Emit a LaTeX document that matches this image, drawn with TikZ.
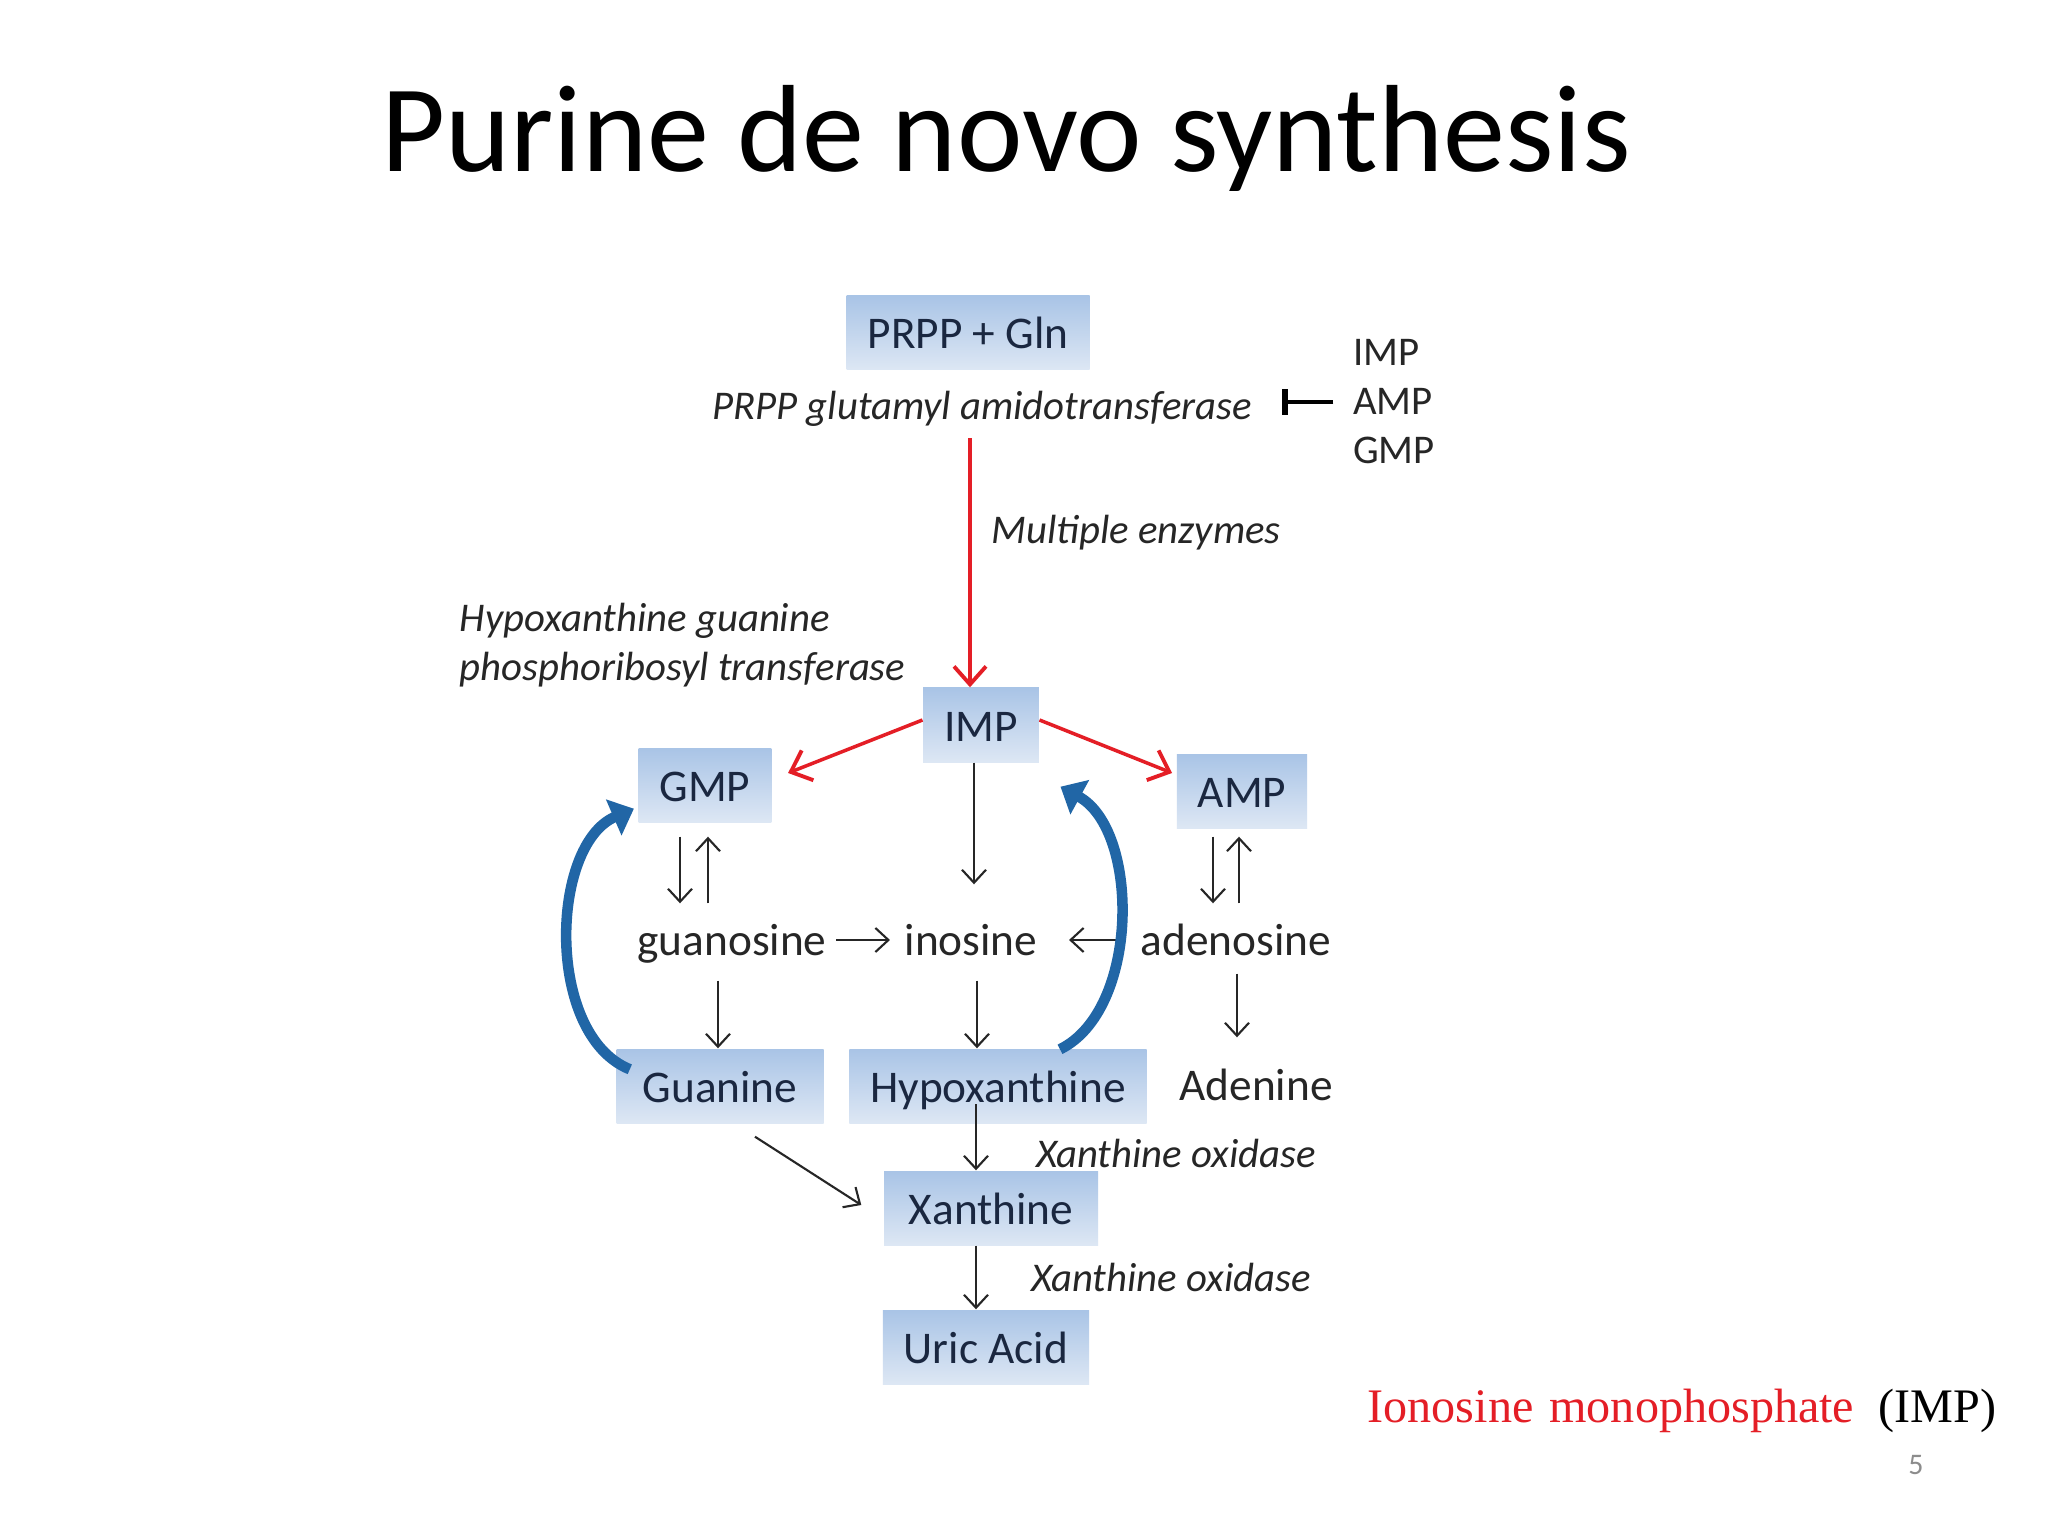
\documentclass[tikz,border=0pt]{standalone}
\usepackage{fontspec}
\setmainfont{Carlito}
\newfontfamily\purSerif{Liberation Serif}
\usetikzlibrary{arrows.meta}
\definecolor{purInk}{HTML}{1A2740}
\definecolor{purGray}{HTML}{262626}
\definecolor{purRed}{HTML}{E41E26}
\definecolor{purBlue}{HTML}{2166A6}
\definecolor{purBoxTop}{HTML}{A9C4E6}
\definecolor{purBoxBot}{HTML}{DDE7F4}
\definecolor{purPage}{HTML}{8C8C8C}
\newcommand{\purLabelFont}{\fontsize{12.9}{15.5}\selectfont}
\newcommand{\purSmallFont}{\fontsize{11.6}{13.95}\selectfont}
\tikzset{
  pur box/.style={top color=purBoxTop, bottom color=purBoxBot, draw=none, minimum height=0.74cm,
    inner xsep=0.21cm, inner ysep=0.1cm, text height=0.40cm, text depth=0.08cm, font=\purLabelFont, text=purInk},
  pur text/.style={font=\purLabelFont, text=purGray, inner sep=0.03cm, text height=0.32cm, text depth=0.09cm},
  pur enzyme/.style={font=\purSmallFont\itshape, text=purGray, inner sep=0.03cm},
  pur small/.style={font=\purSmallFont, text=purGray, inner sep=0.03cm},
  pur arrow/.style={draw=purGray, line width=0.6pt, -{Straight Barb[length=1.3mm,width=2.4mm]}},
  pur red/.style={draw=purRed, line width=1pt, -{Straight Barb[length=1.8mm,width=3.2mm,line width=1.1pt]}},
  pur recycle/.style={draw=purBlue, line width=3pt, -{Triangle[length=2.2mm,width=3.8mm]}},
  pur inhibit/.style={draw=black, line width=1.2pt, -{Bar[width=2.6mm,line width=1.8pt]}},
}

\begin{document}
\begin{tikzpicture}
  % Slide frame
  \fill[white] (0,0) rectangle (20.48,-15.36);
  \useasboundingbox (0,0) rectangle (20.48,-15.36);

  % Title
  \node[font=\fontsize{35.3}{42}\selectfont, anchor=base] (title) at (10.06,-1.72) {Purine de novo synthesis};

  % Start of the pathway and its feedback
  \node[pur box, minimum width=2.43cm] (prpp) at (9.68,-3.33) {PRPP + Gln};
  \node[pur enzyme] (enz) at (9.82,-4.09) {PRPP glutamyl amidotransferase};
  \node[pur small, align=left] (inhib) at (13.94,-4.02) {IMP\\AMP\\GMP};
  \draw[pur inhibit, shorten <=0.16cm, shorten >=0.26cm] (inhib.west) -- (inhib.west -| enz.east);
  \node[pur enzyme] (multi) at (11.36,-5.33) {Multiple enzymes};
  \node[pur enzyme, align=left, anchor=west] (hgprt) at (4.56,-6.45) {Hypoxanthine guanine\\phosphoribosyl transferase};

  % Nucleotides
  \node[pur box, minimum width=1.11cm] (imp) at (9.81,-7.25) {IMP};
  \node[pur box, minimum width=1.29cm] (gmp) at (7.05,-7.85) {GMP};
  \node[pur box, minimum width=1.26cm] (amp) at (12.42,-7.91) {AMP};
  \draw[pur red, shorten <=0.08cm] ([xshift=-0.11cm]imp.north |- enz.south) -- ([xshift=-0.11cm]imp.north);
  \draw[pur red] ([yshift=0.05cm]imp.west) -- ([shift={(0.16,0.12)}]gmp.east);
  \draw[pur red] ([yshift=0.05cm]imp.east) -- ([shift={(-0.04,0.18)}]amp.west);

  % Nucleosides
  \node[pur text, anchor=base] (guanosine) at (7.32,-9.55) {guanosine};
  \node[pur text, anchor=base] (inosine) at (9.71,-9.55) {inosine};
  \node[pur text, anchor=base] (adenosine) at (12.36,-9.55) {adenosine};
  \draw[pur arrow, shorten <=0.14cm, shorten >=0.16cm] ([xshift=-0.25cm]gmp.south) -- ([xshift=-0.25cm]gmp.south |- guanosine.north);
  \draw[pur arrow, shorten <=0.16cm, shorten >=0.14cm] ([xshift=0.03cm]gmp.south |- guanosine.north) -- ([xshift=0.03cm]gmp.south);
  \draw[pur arrow, shorten <=0.08cm, shorten >=0.16cm] ([xshift=-0.29cm]amp.south) -- ([xshift=-0.29cm]amp.south |- adenosine.north);
  \draw[pur arrow, shorten <=0.16cm, shorten >=0.08cm] ([xshift=-0.03cm]amp.south |- adenosine.north) -- ([xshift=-0.03cm]amp.south);
  \draw[pur arrow, shorten >=0.35cm] ([xshift=-0.07cm]imp.south) -- ([xshift=-0.07cm]imp.south |- inosine.north);
  \draw[pur arrow, shorten <=0.06cm, shorten >=0.11cm] ([yshift=0.15cm]guanosine.base east) -- ([yshift=0.15cm]inosine.base west);
  \draw[pur arrow, shorten <=0.16cm, shorten >=0.28cm] ([yshift=0.15cm]adenosine.base west) -- ([yshift=0.15cm]inosine.base east);

  % Bases
  \node[pur box, minimum width=2.07cm] (guanine) at (7.20,-10.86) {Guanine};
  \node[pur box, minimum width=2.97cm] (hypox) at (9.98,-10.86) {Hypoxanthine};
  \node[pur text, anchor=base] (adenine) at (12.56,-11.00) {Adenine};
  \draw[pur arrow, shorten <=0.13cm] ([xshift=-0.02cm]guanine.north |- guanosine.south) -- ([xshift=-0.02cm]guanine.north);
  \draw[pur arrow, shorten <=0.13cm] ([xshift=0.06cm]inosine.south) -- ([xshift=0.06cm]inosine.south |- hypox.north);
  \draw[pur arrow, shorten <=0.06cm, shorten >=0.27cm] ([xshift=0.01cm]adenosine.south) -- ([xshift=0.01cm]adenosine.south |- adenine.north);

  % Salvage loops
  \draw[pur recycle] ([shift={(0.14,-0.21)}]guanine.north west) .. controls (5.45,-10.35) and (5.50,-8.45) .. ([shift={(-0.04,0.14)}]gmp.south west);
  \draw[pur recycle] ([shift={(0.62,-0.01)}]hypox.north) .. controls (11.40,-10.10) and (11.40,-8.30) .. ([shift={(0.21,-0.24)}]imp.south east);

  % Degradation to uric acid
  \node[pur box, minimum width=2.14cm] (xanthine) at (9.91,-12.08) {Xanthine};
  \node[pur box, minimum width=2.04cm] (uric) at (9.86,-13.47) {Uric Acid};
  \node[pur enzyme] (xo1) at (11.76,-11.53) {Xanthine oxidase};
  \node[pur enzyme] (xo2) at (11.71,-12.77) {Xanthine oxidase};
  \draw[pur arrow, shorten <=0.18cm] ([xshift=-0.15cm]xanthine.north |- hypox.center) -- ([xshift=-0.15cm]xanthine.north);
  \draw[pur arrow] ([xshift=-0.15cm]xanthine.south) -- ([xshift=-0.15cm]xanthine.south |- uric.north);
  \draw[pur arrow] ([shift={(0.35,-0.13)}]guanine.south) -- ([shift={(-0.22,0.03)}]xanthine.west);

  % Footnote and page number
  \node[font=\purSerif\fontsize{13.7}{16}\selectfont, anchor=base west, inner sep=0pt] (impnote) at (13.67,-14.22)
    {\textcolor{purRed}{Ionosine\hspace{0.33em}monophosphate}\hspace{0.5em}(IMP)};
  \node[font=\fontsize{8.5}{10}\selectfont, text=purPage, anchor=base] (page) at (19.16,-14.74) {5};
\end{tikzpicture}
\end{document}
